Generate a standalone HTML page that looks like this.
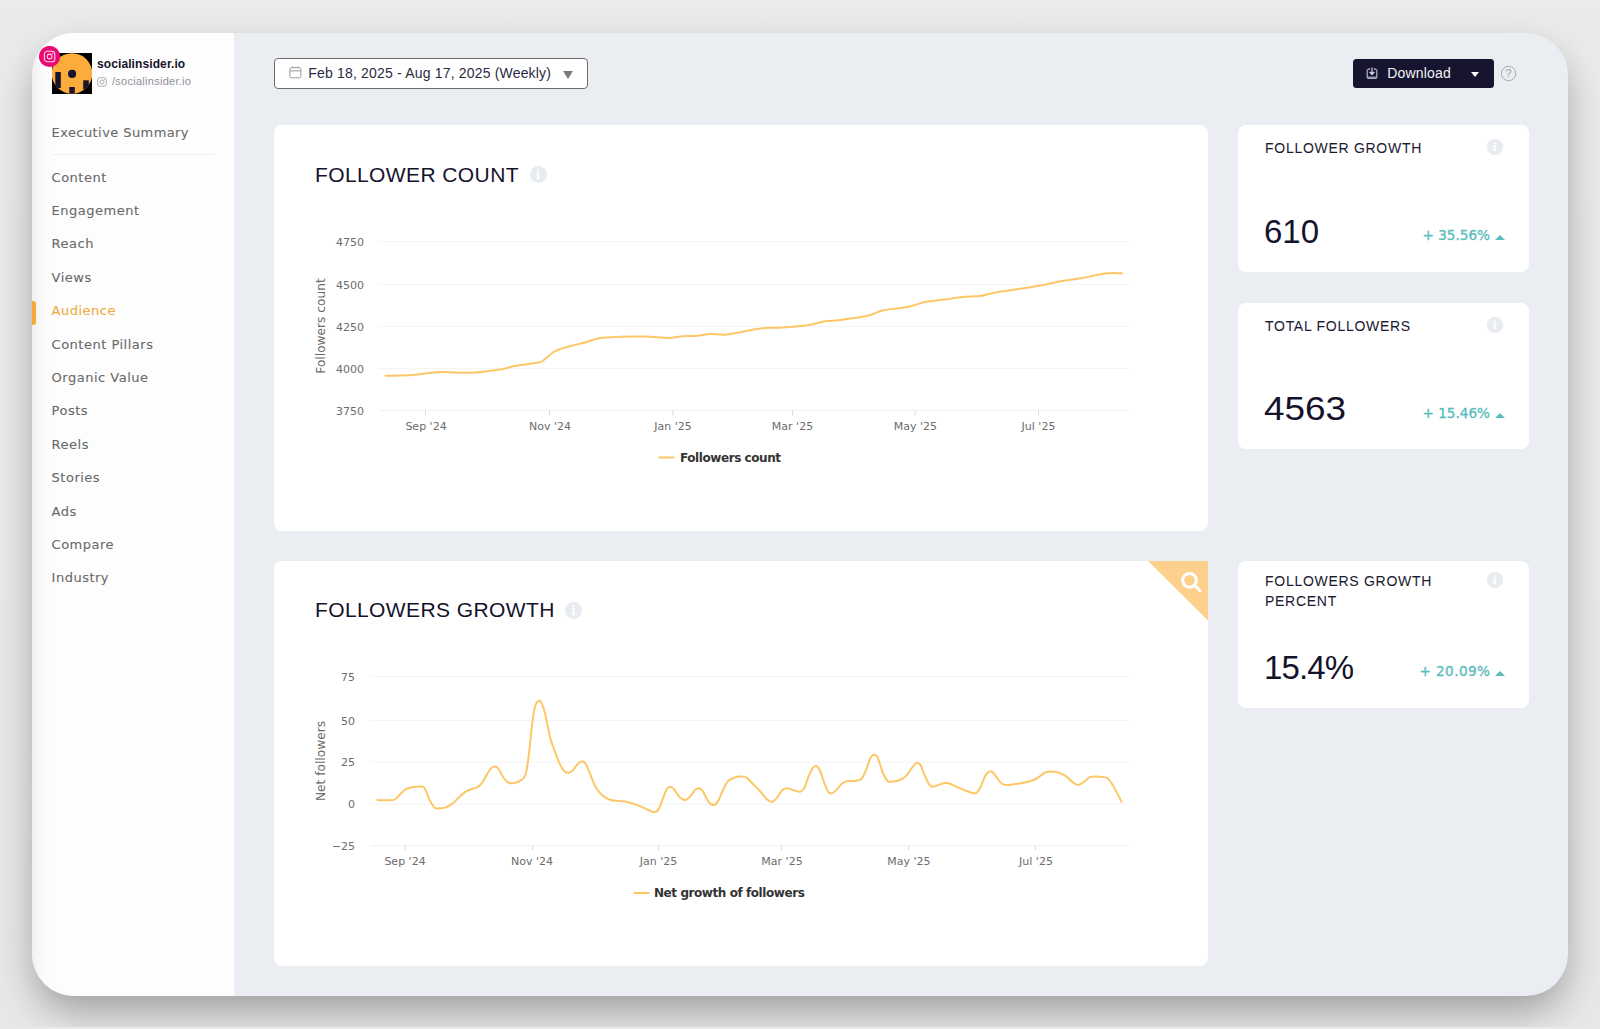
<!DOCTYPE html>
<html lang="en">
<head>
<meta charset="utf-8">
<title>Socialinsider – Audience</title>
<style>
*{box-sizing:border-box;margin:0;padding:0}
html,body{width:1600px;height:1029px;overflow:hidden}
body{position:relative;background:linear-gradient(180deg,#ebebeb 0,#e8e8e8 100%);font-family:"Liberation Sans",sans-serif;color:#15132b}
.strip{position:absolute;z-index:5;left:0;top:1027px;width:1600px;height:2px;background:#e9e9e9}
.app{position:absolute;left:32px;top:33px;width:1536px;height:963px;border-radius:42px;background:#eaedf2;
 box-shadow:0 18px 40px -4px rgba(0,0,0,.34);}
.clip{position:absolute;inset:0;border-radius:42px;overflow:hidden}
.side{position:absolute;left:0;top:0;width:202px;height:963px;background:linear-gradient(90deg,#f1f1f1 0,#fafafa 10px,#fdfdfd 22px,#fdfdfd 100%)}
.abs{position:absolute}
.mont{font-family:"DejaVu Sans","Liberation Sans",sans-serif}
.nav{position:absolute;left:19.6px;font-family:"DejaVu Sans","Liberation Sans",sans-serif;font-size:13px;line-height:16px;color:#696969;letter-spacing:.5px;white-space:nowrap;-webkit-text-stroke:.1px}
.nav.on{color:#f2a93b}
.card{position:absolute;background:#fff;border-radius:8px}
.h1{position:absolute;font-family:"Liberation Sans",sans-serif;font-size:21px;line-height:24px;color:#15132b;white-space:nowrap;letter-spacing:.4px}
.h2{position:absolute;left:27px;font-family:"Liberation Sans",sans-serif;font-size:14px;line-height:20px;color:#1d1b32;letter-spacing:.72px;white-space:nowrap;-webkit-text-stroke:.05px #1d1b32}
.big{position:absolute;left:26px;font-family:"Liberation Sans",sans-serif;font-size:33px;line-height:36px;color:#15132b;white-space:nowrap}
.pct{position:absolute;right:39px;font-family:"DejaVu Sans","Liberation Sans",sans-serif;font-size:13.6px;line-height:18px;color:#5bbdbe;white-space:nowrap;text-align:right;-webkit-text-stroke:.35px #5bbdbe}
.tri{position:absolute;right:24px;width:0;height:0;border-left:5px solid transparent;border-right:5px solid transparent;border-bottom:5px solid #5bbdbe}
.info{position:absolute;width:16px;height:16px;border-radius:50%;background:#e8ebf0;color:#fff;font-family:"Liberation Serif",serif;font-weight:700;font-size:13px;line-height:16px;text-align:center}
.info.lg{width:17px;height:17px;font-size:14px;line-height:17px}
svg text{font-family:"DejaVu Sans","Liberation Sans",sans-serif}
</style>
</head>
<body>
<div class="strip"></div>
<div class="app">
 <div class="clip">
  <div class="side"></div>
 </div>

 <!-- profile -->
 <svg class="abs" style="left:20px;top:20px" width="40" height="41" viewBox="0 0 40 41">
  <rect width="40" height="41" fill="#000"/>
  <clipPath id="lc"><circle cx="20" cy="20.5" r="20.3"/></clipPath>
  <circle cx="20" cy="20.5" r="20.3" fill="#fbac3a"/>
  <g clip-path="url(#lc)" fill="#17142e">
   <rect x="3.3" y="19" width="5.5" height="16"/>
   <circle cx="20.1" cy="20.9" r="4.05"/>
   <rect x="17.3" y="34" width="5.5" height="8"/>
   <rect x="31.2" y="27.3" width="5.6" height="9"/>
  </g>
 </svg>
 <svg class="abs" style="left:7px;top:13px" width="22" height="22" viewBox="0 0 22 22">
  <circle cx="10.6" cy="10.5" r="10.6" fill="#eb0873"/>
  <rect x="5.4" y="5.3" width="10.4" height="10.4" rx="2.8" fill="none" stroke="#fbd3e6" stroke-width="1.1"/>
  <circle cx="10.6" cy="10.5" r="2.4" fill="none" stroke="#fbd3e6" stroke-width="1.1"/>
  <circle cx="13.6" cy="7.5" r=".65" fill="#fbd3e6"/>
 </svg>
 <div class="abs" style="left:65px;top:23px;font-size:12px;line-height:16px;font-weight:700;color:#15132b;letter-spacing:.1px;white-space:nowrap">socialinsider.io</div>
 <svg class="abs" style="left:65px;top:43.5px" width="10" height="10" viewBox="0 0 11 11">
  <rect x=".8" y=".8" width="9.4" height="9.4" rx="2.6" fill="none" stroke="#adadb6" stroke-width="1.1"/>
  <circle cx="5.5" cy="5.5" r="2.2" fill="none" stroke="#adadb6" stroke-width="1.1"/>
  <circle cx="8.1" cy="2.9" r=".6" fill="#adadb6"/>
 </svg>
 <div class="abs" style="left:80px;top:41px;font-size:11px;line-height:14px;color:#90909b;letter-spacing:.27px;white-space:nowrap">/socialinsider.io</div>

 <!-- nav -->
 <div class="nav" style="top:91.7px;letter-spacing:.42px">Executive Summary</div>
 <div class="abs" style="left:20px;top:121px;width:162px;height:1px;background:#efefef"></div>
 <div class="nav" style="top:136.7px">Content</div>
 <div class="nav" style="top:169.7px">Engagement</div>
 <div class="nav" style="top:202.7px">Reach</div>
 <div class="nav" style="top:236.7px">Views</div>
 <div class="abs" style="left:0;top:267.5px;width:4px;height:24px;background:#f5a93a;border-radius:0 3px 3px 0"></div>
 <div class="nav on" style="top:269.7px">Audience</div>
 <div class="nav" style="top:303.7px">Content Pillars</div>
 <div class="nav" style="top:336.7px">Organic Value</div>
 <div class="nav" style="top:369.7px">Posts</div>
 <div class="nav" style="top:403.7px">Reels</div>
 <div class="nav" style="top:436.7px">Stories</div>
 <div class="nav" style="top:470.7px">Ads</div>
 <div class="nav" style="top:503.7px">Compare</div>
 <div class="nav" style="top:536.7px">Industry</div>

 <!-- date picker -->
 <div class="abs" style="left:242px;top:25px;width:313.5px;height:30.5px;background:#fff;border:1px solid #6b6b6b;border-radius:4px"></div>
 <svg class="abs" style="left:257px;top:33px" width="13" height="13" viewBox="0 0 13 13">
  <rect x=".9" y="1.6" width="11" height="10.2" rx="1.6" fill="none" stroke="#9a9a9a" stroke-width="1"/>
  <path d="M.9 4.9H11.9M3.6.4V2.2M9.2.4V2.2" stroke="#9a9a9a" stroke-width="1" fill="none"/>
 </svg>
 <div class="abs" style="left:276.3px;top:32px;font-size:14px;line-height:16px;color:#2b2942;letter-spacing:.18px;white-space:nowrap">Feb 18, 2025 - Aug 17, 2025 (Weekly)</div>
 <div class="abs" style="left:531px;top:37.5px;width:0;height:0;border-left:5px solid transparent;border-right:5px solid transparent;border-top:8.5px solid #7a7a7a"></div>

 <!-- download -->
 <div class="abs" style="left:1320.5px;top:26px;width:141px;height:29px;background:#16142e;border-radius:3.5px"></div>
 <svg class="abs" style="left:1333.6px;top:34.4px" width="12" height="13" viewBox="0 0 12 13">
  <path d="M4.2 2H3.2A2 2 0 0 0 1.2 4V9.4A2 2 0 0 0 3.2 11.4H8.8A2 2 0 0 0 10.8 9.4V4A2 2 0 0 0 8.8 2H7.8" fill="none" stroke="#a9a9bd" stroke-width="1.3"/>
  <path d="M1.6 10.2H10.4" stroke="#a9a9bd" stroke-width="1.2"/>
  <path d="M6 .6V7.6" fill="none" stroke="#c9c9d6" stroke-width="1.2"/>
  <path d="M3.4 5.2L6 8L8.6 5.2Z" fill="#d8d8e2" stroke="#d8d8e2" stroke-width=".6" stroke-linejoin="round"/>
 </svg>
 <div class="abs" style="left:1355.2px;top:32.3px;font-size:14px;line-height:16px;color:#f2f2f5;letter-spacing:.2px;white-space:nowrap">Download</div>
 <div class="abs" style="left:1438.6px;top:38.5px;width:0;height:0;border-left:4.2px solid transparent;border-right:4.2px solid transparent;border-top:5px solid #fff"></div>
 <svg class="abs" style="left:1468px;top:32px" width="17" height="17" viewBox="0 0 17 17">
  <circle cx="8.6" cy="8.5" r="7.2" fill="none" stroke="#a9a9a9" stroke-width="1"/>
  <text x="8.6" y="12.4" text-anchor="middle" font-size="11" style="font-family:'Liberation Sans',sans-serif" fill="#a2a2a2">?</text>
 </svg>

 <!-- card 1 -->
 <div class="card" style="left:242px;top:92px;width:934px;height:406px">
  <div class="h1" style="left:41px;top:38px">FOLLOWER COUNT</div>
  <div class="info lg" style="left:255.5px;top:41px">i</div>
  <svg class="abs" style="left:0;top:0" width="934" height="406" viewBox="274 125 934 406">
   <g stroke="#f4f4f4" stroke-width="1">
    <path d="M379.5 241.5H1129.5M379.5 284.5H1129.5M379.5 326.5H1129.5M379.5 368.5H1129.5"/>
   </g>
   <path d="M379.5 410.5H1129.5" stroke="#edf0f7" stroke-width="1"/>
   <path d="M425.5 410.5v5M549.5 410.5v5M673 410.5v5M792.5 410.5v5M915 410.5v5M1038.5 410.5v5" stroke="#d3dbee" stroke-width="1"/>
   <g font-size="11" fill="#6c6c6c" text-anchor="end">
    <text x="364" y="245.5">4750</text><text x="364" y="288.5">4500</text><text x="364" y="330.5">4250</text><text x="364" y="373">4000</text><text x="364" y="414.5">3750</text>
   </g>
   <g font-size="11" fill="#6c6c6c" text-anchor="middle">
    <text x="426" y="429.5">Sep '24</text><text x="550" y="429.5">Nov '24</text><text x="673" y="429.5">Jan '25</text><text x="792.5" y="429.5">Mar '25</text><text x="915.5" y="429.5">May '25</text><text x="1038.5" y="429.5">Jul '25</text>
   </g>
   <text font-size="12.2" fill="#6c6c6c" text-anchor="middle" transform="translate(325 326) rotate(-90)">Followers count</text>
   <path d="M385.5 375.8C390.0 375.6 403.4 375.6 412.5 375.0C421.6 374.4 430.4 372.4 440.0 372.0C449.6 371.6 460.0 373.2 470.0 372.8C480.0 372.3 492.5 370.6 500.0 369.5C507.5 368.4 509.2 367.1 515.0 366.0C520.8 364.9 530.4 363.8 535.0 363.0C539.6 362.2 539.2 363.0 542.5 361.0C545.8 359.0 550.4 353.7 555.0 351.2C559.6 348.8 565.0 347.7 570.0 346.2C575.0 344.8 580.0 343.9 585.0 342.5C590.0 341.1 594.2 339.0 600.0 338.0C605.8 337.0 612.5 337.0 620.0 336.8C627.5 336.5 636.9 336.3 645.0 336.5C653.1 336.7 662.5 338.0 668.8 338.0C675.0 338.0 677.7 336.6 682.5 336.2C687.3 335.9 692.9 336.1 697.5 335.8C702.1 335.4 705.0 334.2 710.0 334.0C715.0 333.8 720.8 335.1 727.5 334.5C734.2 333.9 743.8 331.4 750.0 330.3C756.2 329.2 759.6 328.5 765.0 328.0C770.4 327.5 775.2 328.0 782.5 327.5C789.8 327.0 801.7 326.0 808.8 325.0C815.8 324.0 819.8 322.1 825.0 321.2C830.2 320.4 832.9 320.9 840.0 320.0C847.1 319.1 860.4 317.3 867.5 315.8C874.6 314.2 875.8 312.0 882.5 310.5C889.2 309.0 900.4 308.4 907.5 307.0C914.6 305.6 918.8 303.2 925.0 302.0C931.2 300.8 938.8 300.3 945.0 299.5C951.2 298.7 956.7 297.6 962.5 297.0C968.3 296.4 974.6 296.8 980.0 296.0C985.4 295.2 989.2 293.6 995.0 292.5C1000.8 291.4 1007.9 290.6 1015.0 289.5C1022.1 288.4 1029.2 287.5 1037.5 286.0C1045.8 284.5 1057.5 281.8 1065.0 280.5C1072.5 279.2 1075.8 279.2 1082.5 278.0C1089.2 276.8 1098.4 274.3 1105.0 273.5C1111.6 272.7 1119.2 273.3 1122.0 273.2" fill="none" stroke="#fdc666" stroke-width="2" stroke-linecap="round" stroke-linejoin="round"/>
   <path d="M658.5 457.5H674.5" stroke="#fdc666" stroke-width="2"/>
   <text x="680" y="461.5" font-size="12" font-weight="700" fill="#333" letter-spacing="-.43">Followers count</text>
  </svg>
 </div>

 <!-- card 2 -->
 <div class="card" style="left:242px;top:528px;width:934px;height:405px;overflow:hidden;border-radius:8px 0 8px 8px">
  <div class="h1" style="left:41px;top:37px">FOLLOWERS GROWTH</div>
  <div class="info lg" style="left:291px;top:40.5px">i</div>
  <svg class="abs" style="left:0;top:0" width="934" height="405" viewBox="274 561 934 405">
   <path d="M1148 561H1208V620.5Z" fill="#fdd08c"/>
   <circle cx="1189.5" cy="580.3" r="6.9" fill="none" stroke="#fff" stroke-width="3"/>
   <path d="M1194.6 585.4L1200 590.6" stroke="#fff" stroke-width="3" stroke-linecap="round"/>
   <g stroke="#f4f4f4" stroke-width="1">
    <path d="M370.5 676.5H1129.5M370.5 720.5H1129.5M370.5 762H1129.5M370.5 804H1129.5"/>
   </g>
   <path d="M370.5 845.5H1129.5" stroke="#edf0f7" stroke-width="1"/>
   <path d="M405 845.5v5M532.5 845.5v5M658.5 845.5v5M781.5 845.5v5M908.5 845.5v5M1035.5 845.5v5" stroke="#d3dbee" stroke-width="1"/>
   <g font-size="11" fill="#6c6c6c" text-anchor="end">
    <text x="355" y="681">75</text><text x="355" y="724.5">50</text><text x="355" y="766">25</text><text x="355" y="808">0</text><text x="355" y="849.5">−25</text>
   </g>
   <g font-size="11" fill="#6c6c6c" text-anchor="middle">
    <text x="405" y="865">Sep '24</text><text x="532" y="865">Nov '24</text><text x="658.5" y="865">Jan '25</text><text x="782" y="865">Mar '25</text><text x="909" y="865">May '25</text><text x="1036" y="865">Jul '25</text>
   </g>
   <text font-size="12.2" fill="#6c6c6c" text-anchor="middle" transform="translate(325 761) rotate(-90)">Net followers</text>
   <path d="M377.5 800.1C380.0 800.1 389.4 800.3 392.5 800.1C395.6 799.8 394.8 799.5 396.2 798.4C397.7 797.3 399.4 795.0 400.9 793.5C402.5 792.0 403.6 790.4 405.6 789.4C407.7 788.3 410.3 787.6 413.1 787.1C415.9 786.7 420.5 786.4 422.5 786.8C424.5 787.1 424.1 787.1 425.3 789.4C426.6 791.7 428.4 797.6 430.0 800.6C431.6 803.7 433.1 806.5 434.7 807.8C436.2 809.0 437.7 808.3 439.4 808.3C441.1 808.3 442.8 808.3 445.0 807.6C447.2 806.8 450.2 805.3 452.5 803.6C454.8 801.9 456.9 799.2 459.1 797.2C461.2 795.2 463.4 793.0 465.6 791.6C467.8 790.2 470.2 789.8 472.2 789.0C474.2 788.2 476.1 788.1 477.8 786.9C479.5 785.8 480.8 784.7 482.5 782.2C484.2 779.8 486.6 775.0 488.1 772.5C489.7 770.0 490.7 768.4 491.9 767.4C493.1 766.4 494.2 766.3 495.2 766.5C496.3 766.7 497.1 767.0 498.4 768.8C499.8 770.5 501.6 774.9 503.1 777.2C504.7 779.5 506.2 781.4 507.8 782.4C509.4 783.4 510.8 783.3 512.5 783.2C514.2 783.1 516.2 782.8 518.1 781.9C520.0 781.0 522.3 779.6 523.8 777.8C525.2 775.9 525.6 775.2 526.6 770.6C527.5 766.0 528.4 757.8 529.4 750.0C530.3 742.2 531.2 730.9 532.2 723.8C533.1 716.6 534.0 710.7 535.0 706.9C536.0 703.1 537.3 701.5 538.4 700.9C539.5 700.2 540.4 700.9 541.6 703.1C542.7 705.4 543.9 708.8 545.3 714.4C546.7 720.0 548.4 730.8 550.0 736.9C551.6 743.0 553.1 746.6 554.7 750.9C556.2 755.3 557.8 759.8 559.4 763.1C560.9 766.5 562.6 769.3 564.1 771.0C565.6 772.7 567.0 773.1 568.4 773.1C569.8 773.0 571.0 772.0 572.5 770.6C574.0 769.2 575.6 766.2 577.2 764.6C578.8 763.1 580.5 761.4 581.9 761.2C583.3 761.1 584.2 761.3 585.6 763.5C587.0 765.7 588.6 770.4 590.3 774.4C592.0 778.4 593.9 784.0 595.9 787.5C598.0 791.0 600.2 793.3 602.5 795.4C604.8 797.4 607.5 798.8 610.0 799.7C612.5 800.6 615.0 800.7 617.5 801.0C620.0 801.3 622.5 801.0 625.0 801.4C627.5 801.8 630.0 802.6 632.5 803.4C635.0 804.2 637.5 805.2 640.0 806.2C642.5 807.3 645.3 808.7 647.5 809.6C649.7 810.6 651.6 811.6 653.1 811.9C654.6 812.2 655.4 812.3 656.5 811.5C657.6 810.7 658.5 809.6 659.7 807.2C660.8 804.8 662.2 800.0 663.4 796.9C664.7 793.8 666.1 790.1 667.2 788.4C668.3 786.8 668.9 786.7 670.0 786.8C671.1 786.8 672.2 787.3 673.8 789.0C675.3 790.7 677.6 795.0 679.4 796.9C681.2 798.7 682.9 800.1 684.6 800.1C686.3 800.1 687.9 798.6 689.7 796.9C691.5 795.2 693.8 791.2 695.3 789.8C696.9 788.3 697.8 788.0 699.1 788.2C700.3 788.5 701.2 789.0 702.8 791.2C704.4 793.5 706.7 799.2 708.4 801.6C710.2 803.9 711.9 805.1 713.5 805.1C715.1 805.1 716.3 803.9 717.8 801.6C719.3 799.2 720.9 794.5 722.5 791.2C724.1 788.0 725.3 784.5 727.2 782.2C729.1 780.0 731.4 778.7 733.8 777.8C736.1 776.8 739.1 776.4 741.2 776.4C743.4 776.4 744.7 776.2 746.9 777.8C749.1 779.3 752.2 783.4 754.4 785.6C756.6 787.9 757.8 788.9 760.0 791.2C762.2 793.6 765.5 797.9 767.5 799.7C769.5 801.4 770.6 802.1 772.2 801.8C773.8 801.4 775.2 799.8 776.9 797.8C778.6 795.8 780.8 791.3 782.5 789.8C784.2 788.2 785.3 788.2 787.2 788.2C789.1 788.3 791.6 789.7 793.8 790.3C795.9 790.9 798.6 792.1 800.3 791.8C802.0 791.5 802.7 791.0 804.1 788.4C805.5 785.8 807.3 779.6 808.8 776.2C810.2 772.9 811.3 770.1 812.5 768.4C813.7 766.7 814.7 765.9 815.9 766.1C817.1 766.3 818.2 766.8 819.6 769.7C821.1 772.6 823.2 780.0 824.7 783.8C826.2 787.5 827.2 790.6 828.4 792.2C829.7 793.8 830.8 793.6 832.2 793.1C833.6 792.7 835.2 791.0 836.9 789.4C838.6 787.7 840.6 784.6 842.5 783.2C844.4 781.8 845.9 781.5 848.1 781.1C850.3 780.7 853.4 781.1 855.6 780.8C857.8 780.4 859.5 780.8 861.2 779.1C863.0 777.4 864.4 774.1 865.9 770.6C867.4 767.2 868.9 761.1 870.2 758.4C871.6 755.8 872.8 754.8 874.0 754.7C875.2 754.6 876.3 754.9 877.8 757.9C879.2 760.8 881.2 768.7 882.8 772.5C884.4 776.3 885.8 779.4 887.5 780.9C889.2 782.4 891.1 781.7 893.1 781.5C895.2 781.3 897.5 780.9 899.7 780.0C901.9 779.1 904.2 777.9 906.2 775.9C908.3 773.8 910.2 769.9 911.9 767.8C913.6 765.7 915.2 763.7 916.6 763.1C918.0 762.6 918.9 762.4 920.3 764.6C921.7 766.8 923.4 772.8 925.0 776.2C926.6 779.7 928.3 783.5 929.7 785.2C931.1 787.0 931.7 786.9 933.4 786.8C935.2 786.6 938.0 784.9 940.0 784.3C942.0 783.7 943.8 783.0 945.6 783.0C947.5 783.0 949.1 783.5 951.2 784.3C953.4 785.1 956.2 786.8 958.8 787.9C961.2 789.0 963.9 790.0 966.2 790.9C968.6 791.8 971.1 792.8 972.8 793.1C974.5 793.4 975.3 793.7 976.6 792.8C977.8 791.8 978.9 790.2 980.3 787.5C981.7 784.8 983.6 778.9 985.0 776.2C986.4 773.6 987.5 772.5 988.8 771.8C990.0 771.0 991.1 770.9 992.5 771.9C993.9 773.0 995.6 776.2 997.2 778.1C998.8 780.1 1000.3 782.6 1001.9 783.8C1003.4 784.9 1004.4 785.0 1006.6 785.1C1008.8 785.1 1012.0 784.5 1015.0 784.1C1018.0 783.7 1021.2 783.3 1024.4 782.6C1027.5 781.9 1031.2 781.0 1033.8 780.0C1036.2 779.0 1037.5 777.9 1039.4 776.6C1041.2 775.4 1043.1 773.4 1045.0 772.5C1046.9 771.6 1048.4 771.4 1050.6 771.4C1052.8 771.4 1055.6 771.8 1058.1 772.5C1060.6 773.2 1063.4 774.5 1065.6 775.9C1067.8 777.3 1069.5 779.5 1071.2 780.9C1073.0 782.3 1074.5 783.7 1075.9 784.3C1077.3 784.9 1078.3 785.0 1079.7 784.5C1081.1 784.0 1082.7 782.7 1084.4 781.5C1086.1 780.3 1088.1 778.0 1090.0 777.2C1091.9 776.3 1093.4 776.5 1095.6 776.4C1097.8 776.4 1101.1 776.7 1103.1 777.0C1105.2 777.3 1106.2 777.2 1107.8 778.5C1109.4 779.8 1110.9 782.2 1112.5 784.7C1114.1 787.1 1115.7 790.3 1117.2 793.1C1118.7 796.0 1120.8 800.3 1121.5 801.8" fill="none" stroke="#fdc666" stroke-width="2" stroke-linecap="round" stroke-linejoin="round"/>
   <path d="M633.5 893H649.5" stroke="#fdc666" stroke-width="2"/>
   <text x="654" y="897" font-size="12" font-weight="700" fill="#333" letter-spacing="-.43">Net growth of followers</text>
  </svg>
 </div>

 <!-- stat cards -->
 <div class="card" style="left:1206px;top:92px;width:291px;height:147px">
  <div class="h2" style="top:13px">FOLLOWER GROWTH</div>
  <div class="info" style="left:248.5px;top:13.5px">i</div>
  <div class="big" style="top:89px">610</div>
  <div class="pct" style="top:101px">+ 35.56%</div>
  <div class="tri" style="top:109.5px"></div>
 </div>
 <div class="card" style="left:1206px;top:270px;width:291px;height:146px">
  <div class="h2" style="top:13px">TOTAL FOLLOWERS</div>
  <div class="info" style="left:248.5px;top:13.5px">i</div>
  <div class="big" style="top:88px;transform:scaleX(1.118);transform-origin:0 50%">4563</div>
  <div class="pct" style="top:101px">+ 15.46%</div>
  <div class="tri" style="top:109.5px"></div>
 </div>
 <div class="card" style="left:1206px;top:528px;width:291px;height:147px">
  <div class="h2" style="top:9.5px">FOLLOWERS GROWTH<br>PERCENT</div>
  <div class="info" style="left:248.5px;top:10.5px">i</div>
  <div class="big" style="top:89px;letter-spacing:-.9px">15.4%</div>
  <div class="pct" style="top:101px;letter-spacing:.42px;right:38.6px">+ 20.09%</div>
  <div class="tri" style="top:109.5px"></div>
 </div>
</div>
</body>
</html>
